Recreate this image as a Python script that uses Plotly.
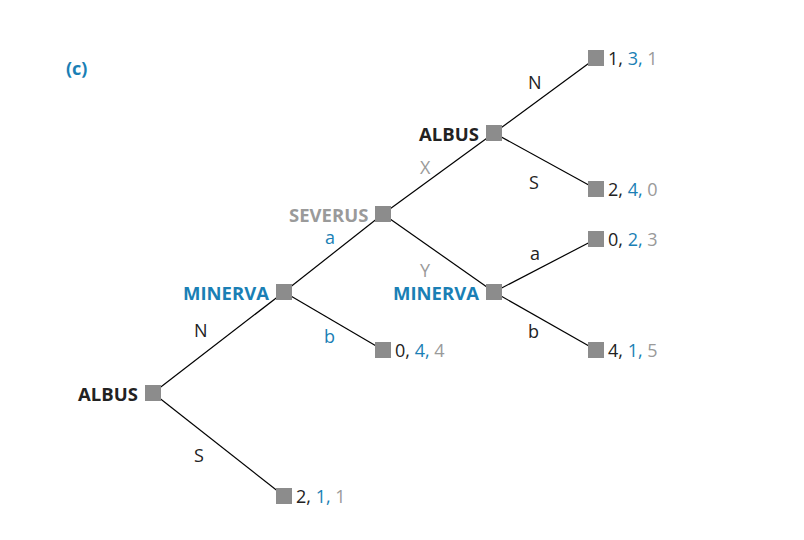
import plotly.graph_objects as go

BLUE = "#1a7fb5"
GRAY = "#9a9a9a"
BLACK = "#222222"

# decision nodes: name, colour, position (layout)
node_names = ["ALBUS", "MINERVA", "SEVERUS", "ALBUS", "MINERVA"]
node_colors = [BLACK, BLUE, GRAY, BLACK, BLUE]
node_x = [153, 284, 383, 494, 494]
node_y = [393, 292, 214, 133, 292]

# terminal nodes and payoffs (Albus, Minerva, Severus)
term_x = [596, 596, 596, 596, 383, 284]
term_y = [58, 189, 239, 350, 350, 496]
payoffs = [(1, 3, 1), (2, 4, 0), (0, 2, 3), (4, 1, 5), (0, 4, 4), (2, 1, 1)]

# edges: (from point, to point, label, label colour, label pos)
edges = [
    ((153, 393), (284, 292), "N", BLACK, (201, 330)),
    ((153, 393), (284, 496), "S", BLACK, (199, 455)),
    ((284, 292), (383, 214), "a", BLUE, (330, 237)),
    ((284, 292), (383, 350), "b", BLUE, (329, 336)),
    ((383, 214), (494, 133), "X", GRAY, (425, 167)),
    ((383, 214), (494, 292), "Y", GRAY, (425, 270)),
    ((494, 133), (596, 58), "N", BLACK, (535, 82)),
    ((494, 133), (596, 189), "S", BLACK, (534, 182)),
    ((494, 292), (596, 239), "a", BLACK, (535, 253)),
    ((494, 292), (596, 350), "b", BLACK, (533, 331)),
]

fig = go.Figure()
for (p, q, lab, col, lp) in edges:
    fig.add_trace(go.Scatter(x=[p[0], q[0]], y=[p[1], q[1]], mode="lines",
                             line=dict(color="black", width=1.2), hoverinfo="skip"))
fig.add_trace(go.Scatter(x=node_x + term_x, y=node_y + term_y, mode="markers",
                         marker=dict(symbol="square", size=16, color="#8c8c8c"),
                         hoverinfo="skip"))

F = "Open Sans"
ann = []
for n, c, x, y in zip(node_names, node_colors, node_x, node_y):
    ann.append(dict(x=x - 13, y=y, text=f"<b>{n}</b>", xanchor="right", yanchor="middle",
                    showarrow=False, font=dict(family=F, size=18.5, color=c)))
for (p, q, lab, col, lp) in edges:
    ann.append(dict(x=lp[0], y=lp[1], text=lab, showarrow=False,
                    font=dict(family=F, size=18, color=col)))
for x, y, (a, b, s) in zip(term_x, term_y, payoffs):
    t = (f"<span style='color:{BLACK}'>{a},</span> <span style='color:{BLUE}'>{b},</span> "
         f"<span style='color:{GRAY}'>{s}</span>")
    ann.append(dict(x=x + 10, y=y, text=t, xanchor="left", yanchor="middle",
                    showarrow=False, font=dict(family=F, size=18)))
ann.append(dict(x=64, y=68, text="<b>(c)</b>", xanchor="left", showarrow=False,
                font=dict(family=F, size=18, color=BLUE)))

# page body has an 8px margin, so offset ranges to keep pixel coordinates
fig.update_layout(
    width=804, height=540, margin=dict(l=0, r=0, t=0, b=0),
    paper_bgcolor="white", plot_bgcolor="white", showlegend=False,
    xaxis=dict(range=[8, 812], visible=False, fixedrange=True),
    yaxis=dict(range=[548, 8], visible=False, fixedrange=True),
    annotations=ann,
)
fig.write_html("out.html")
